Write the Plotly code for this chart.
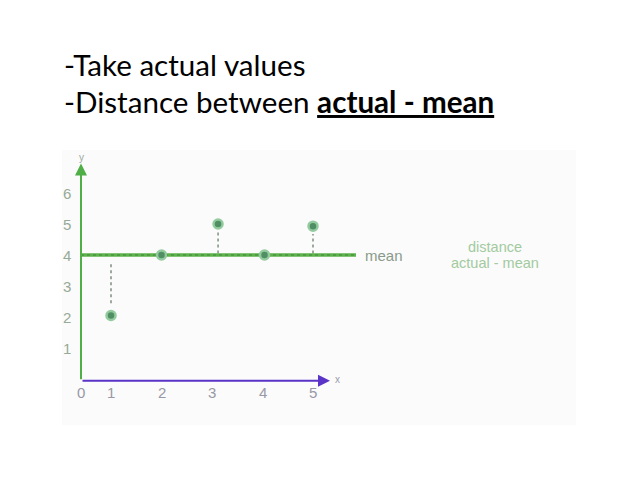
import plotly.graph_objects as go

# data
x_points = [1, 2, 3.12, 4.04, 5]
y_points = [2.05, 4, 5.0, 4, 4.93]
mean_value = 4
x_ticks = [1, 2, 3, 4, 5]
y_ticks = [1, 2, 3, 4, 5, 6]
title_lines = ["-Take actual values", "-Distance between <b><u>actual - mean</u></b>"]
note_lines = ["distance", "actual - mean"]

W, H = 638, 493
OFF = 8  # page margin of the browser
# pixel <-> data mapping of the embedded diagram (screen pixels)
X0, XS = 60.5, 50.5
Y0, YS = 379.0, 31.0


def dx(px):
    return (px - X0) / XS


def dy(py):
    return (Y0 - py) / YS


y_axis_x = dx(81)
axis_y = -0.06

fig = go.Figure()

# dotted distances from mean to each point
for xp, yp in zip(x_points, y_points):
    if abs(yp - mean_value) < 0.2:
        continue
    if yp < mean_value:
        y_a, y_b = mean_value - 0.3, yp + 0.3
    else:
        y_a, y_b = mean_value + 0.05, yp - 0.25
    fig.add_trace(go.Scatter(x=[xp, xp], y=[y_a, y_b], mode='lines',
                             line=dict(color='#7f8f80', width=1.5, dash='dot'),
                             showlegend=False, hoverinfo='skip'))

# mean line
fig.add_trace(go.Scatter(x=[y_axis_x, dx(356)], y=[mean_value, mean_value],
                         mode='lines', line=dict(color='#5db24a', width=3.5),
                         showlegend=False, hoverinfo='skip'))
fig.add_trace(go.Scatter(x=[y_axis_x, dx(356)], y=[mean_value, mean_value],
                         mode='lines', line=dict(color='#3f8a3a', width=1, dash='dot'),
                         showlegend=False, hoverinfo='skip'))

# actual values
fig.add_trace(go.Scatter(x=x_points, y=y_points, mode='markers',
                         marker=dict(size=9, color='#4f8f63',
                                     line=dict(color='#93cb9f', width=2.5)),
                         showlegend=False))

annotations = []
# axes as arrows
annotations.append(dict(x=y_axis_x, y=6.95, ax=y_axis_x, ay=axis_y,
                        xref='x', yref='y', axref='x', ayref='y', text='',
                        showarrow=True, arrowhead=2, arrowsize=1.2, arrowwidth=2,
                        arrowcolor='#4fae46'))
annotations.append(dict(x=dx(330), y=axis_y, ax=y_axis_x, ay=axis_y,
                        xref='x', yref='y', axref='x', ayref='y', text='',
                        showarrow=True, arrowhead=2, arrowsize=1.2, arrowwidth=2,
                        arrowcolor='#5a33c8'))
annotations.append(dict(x=y_axis_x, y=7.15, text='y', showarrow=False,
                        font=dict(family='Liberation Sans', size=10, color='#9aa89a')))
annotations.append(dict(x=dx(337), y=0.0, text='x', showarrow=False,
                        font=dict(family='Liberation Sans', size=10, color='#9a9aaa')))

# tick labels
tick_font = dict(family='Liberation Sans', size=15, color='#9898a6')
annotations.append(dict(x=y_axis_x, y=-0.45, text='0', showarrow=False, font=tick_font))
for t in x_ticks:
    annotations.append(dict(x=t, y=-0.45, text=str(t), showarrow=False, font=tick_font))
for t in y_ticks:
    annotations.append(dict(x=dx(67), y=t, text=str(t), showarrow=False,
                            font=dict(family='Liberation Sans', size=15, color='#97aa97')))

# labels on the right
annotations.append(dict(x=dx(363), y=mean_value, text='mean', showarrow=False,
                        xanchor='left',
                        font=dict(family='Liberation Sans', size=15, color='#8a9a8a')))
for i, line in enumerate(note_lines):
    annotations.append(dict(x=dx(495), y=dy(247 + 16 * i), text=line,
                            showarrow=False, borderpad=0,
                            font=dict(family='Liberation Sans', size=14.5, color='#a2caa0')))

# slide text
for i, line in enumerate(title_lines):
    annotations.append(dict(x=(62 - OFF) / W, y=1 - (64 + 38 * i - OFF) / H,
                            xref='paper', yref='paper',
                            text=line, showarrow=False, xanchor='left', yanchor='middle',
                            font=dict(family='Lato', size=29.6, color='#000000')))

fig.update_layout(
    width=W, height=H,
    margin=dict(l=0, r=0, t=0, b=0),
    paper_bgcolor='white', plot_bgcolor='white',
    xaxis=dict(range=[dx(OFF), dx(W + OFF)], visible=False, fixedrange=True),
    yaxis=dict(range=[dy(H + OFF), dy(OFF)], visible=False, fixedrange=True),
    shapes=[dict(type='rect', xref='paper', yref='paper', layer='below',
                 x0=(62 - OFF) / W, x1=(576 - OFF) / W,
                 y0=1 - (425 - OFF) / H, y1=1 - (150 - OFF) / H,
                 fillcolor='#fbfbfb', line=dict(width=0))],
    annotations=annotations,
)

fig.write_html("out.html")
